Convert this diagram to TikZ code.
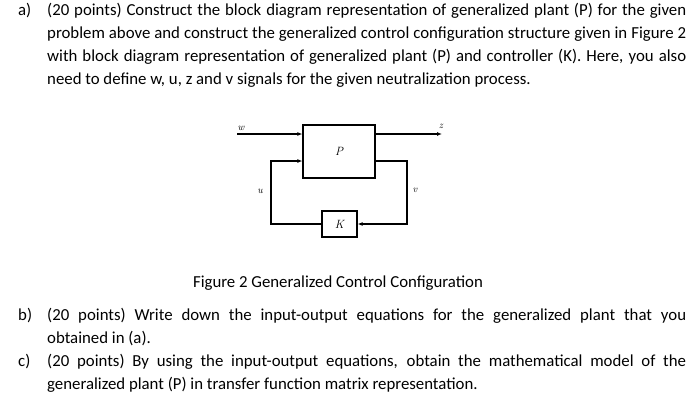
\documentclass[tikz,border=0pt]{standalone}
\usepackage{fontspec}
\setmainfont{Carlito}
\usetikzlibrary{arrows.meta}
\begin{document}
\begin{tikzpicture}[x=1pt,y=-1pt,
  para/.style={anchor=north west,inner sep=0pt,text width=639pt,align=justify,font=\fontsize{16.8}{23}\selectfont},
  lab/.style={anchor=north west,inner sep=0pt,font=\fontsize{16.8}{23}\selectfont},
  blk/.style={draw,line width=1.2pt,inner sep=0pt,font=\fontsize{12}{12}\selectfont},
  sig/.style={font=\fontsize{10}{10}\selectfont,inner sep=0pt},
  ar/.style={line width=1.2pt,-{Latex[length=5pt,width=4pt]}}]
\useasboundingbox (0,0) rectangle (700,412);
\node[lab] (la) at (18,3) {a)};
\node[para] (pa) at (47,3) {(20 points) Construct the block diagram representation of generalized plant (P) for the given\linebreak problem above and construct the generalized control configuration structure given in Figure 2\linebreak with block diagram representation of generalized plant (P) and controller (K). Here, you also\linebreak need to define w, u, z and v signals for the given neutralization process.};
% diagram
\node[blk,minimum width=72pt,minimum height=53pt] (P) at (339,151.5) {\fontfamily{lmr}\selectfont\itshape P};
\node[blk,minimum width=35pt,minimum height=26pt] (K) at (339.5,224) {\fontfamily{lmr}\selectfont\itshape K};
\coordinate (w0) at (237,134);
\coordinate (z1) at (442,134);
\draw[ar] (w0) -- (w0 -| P.west);
\draw[ar] (z1 -| P.east) -- (z1);
\coordinate (ul) at (271,161);
\coordinate (vr) at (407,161);
\draw[ar] (K.west) -| (ul) -- (ul -| P.west);
\draw[ar] (vr -| P.east) -- (vr) |- (K.east);
\node[sig] (lw) at (241,128) {\fontfamily{lmr}\selectfont\itshape w};
\node[sig] (lz) at (441,126) {\fontfamily{lmr}\selectfont\itshape z};
\node[sig] (lu) at (260,191) {\fontfamily{lmr}\selectfont\itshape u};
\node[sig] (lv) at (415,190) {\fontfamily{lmr}\selectfont\itshape v};
\node[inner sep=0pt,font=\fontsize{16.8}{23}\selectfont] (cap) at (338,283) {Figure 2 Generalized Control Configuration};
\node[lab] (lb) at (18,308) {b)};
\node[para] (pb) at (47,308) {(20 points) Write down the input-output equations for the generalized plant that you\linebreak obtained in (a).};
\node[lab] (lc) at (18,354) {c)};
\node[para] (pc) at (47,354) {(20 points) By using the input-output equations, obtain the mathematical model of the\linebreak generalized plant (P) in transfer function matrix representation.};
\end{tikzpicture}
\end{document}
